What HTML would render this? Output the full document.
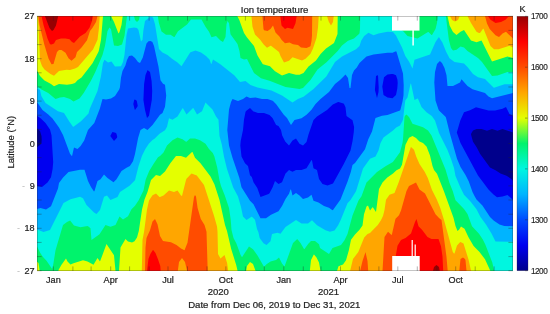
<!DOCTYPE html>
<html><head><meta charset="utf-8"><style>
html,body{margin:0;padding:0;background:#fff;}
body{width:550px;height:314px;overflow:hidden;}
svg{display:block;}
text{font-family:"Liberation Sans",Arial,sans-serif;font-size:9.1px;fill:#1f1f1f;stroke:#1f1f1f;stroke-width:0.22px;}
</style></head><body>
<svg width="550" height="314" viewBox="0 0 550 314">
<defs><linearGradient id="jet" x1="0" y1="0" x2="0" y2="1"><stop offset="0.0000" stop-color="#980002"/><stop offset="0.1000" stop-color="#ff0000"/><stop offset="0.2000" stop-color="#ff4c00"/><stop offset="0.3000" stop-color="#ffa600"/><stop offset="0.4000" stop-color="#e4ff00"/><stop offset="0.5000" stop-color="#00f36c"/><stop offset="0.6000" stop-color="#00f6e0"/><stop offset="0.7000" stop-color="#00b4ff"/><stop offset="0.8000" stop-color="#004bff"/><stop offset="0.9000" stop-color="#0000f0"/><stop offset="1.0000" stop-color="#00008c"/></linearGradient></defs>
<rect width="550" height="314" fill="#fff"/>
<g transform="translate(37,16)">
<rect width="476" height="255" fill="#00008c"/>
<path fill="#0000f0" fill-rule="evenodd" d="M0.5,0 476,0 476,116.5 465.5,113 460.5,114.8 455,113 450,114.8 444.5,113 439.5,113 436,114.6 434.2,117.5 434,118.5 436,125.7 439.5,130.9 443,137.8 453,151.6 458.5,154.3 463.5,157.6 469.5,159.7 474,162.7 476,164.7 476,255 0,255 0,131.3 3,129 4.5,126.9 4.7,123.5 4.5,120.1 3,115 0,112.6 0,0Z"/>
<path fill="#004bff" fill-rule="evenodd" d="M0.5,0 476,0 476,99.8 472.5,98 469,91 465.5,92.8 458,94.5 451.5,94.5 439,91.2 433,94.2 427,96.3 423.3,104.5 419.8,116.5 423.5,127 441,159.5 451.5,173.5 456.5,178.5 460,181.2 465.5,180.5 470.5,178.9 476,184 476,255 0,255 0,170 5,171 10.5,166.5 11.5,165 14,161.2 15.6,153 16.2,146 14.5,119.3 13,113.5 8.5,107.1 3.9,102.5 0,99.7 0,0ZM110.4,54.5 108.5,59 107.1,68 106.4,84 108,94 110,102 112,99.8 114.8,84 115.2,75 114.6,65 113,56.1 110.5,54ZM354.5,58 350.5,58.6 347,61.3 345.3,70.5 346.5,79 350.5,81.4 355.5,82.2 359,79.1 360.3,72.5 360.7,67 360.4,63.5 359,59.3 356,57.9 354.5,58ZM340,59.5 339,60 337.9,74 340,81.9 341.5,76 341.7,71.5 341,59.2 340,59.5ZM97.2,84 96.3,88 97.7,93.5 98,94 100.5,90.5 100.7,89.5 99.8,85 99,84.1 97.5,83.5ZM301.1,86 295.8,88.5 290,93.9 280,100.5 276.5,104 271.5,118.4 269.5,125.9 266,129.5 262.5,127.8 259,122.5 255.5,124.4 252,129.5 248.2,125.5 245.2,119.5 244,114.1 241.5,110.1 239.1,109 235.5,102 232.5,99.1 227,97 221,96.9 217.5,95.8 216.5,95.4 213,92 209,95 208.5,95.9 207,103.5 206,113.9 203.7,125 203.3,129.5 204.5,140.4 208,147.2 211,150.1 213,159.2 214.8,161 216.5,166.2 220.3,172 223.5,181 231.6,178 232.5,177.2 235.5,171.5 238,165 241.5,168 245,166.2 248.5,157.5 252,154 255.5,155.8 259,154 264.5,153.9 269.5,152.3 274.5,144.1 275,144.6 276.5,152.3 280,154 282,163.1 285.5,168 290.5,169.6 296,167.6 306.5,148.5 313.5,134.6 315.5,125.2 316.8,116 317.1,111 315.5,104.3 309.5,99.9 308.5,91.2 307,88 306.5,87.5 301.5,85.9ZM75.1,116.5 73.3,120 77,124.9 80,121.8 80.2,120.5 79.4,117.5 78.5,116.7 75.5,116Z"/>
<path fill="#00b4ff" fill-rule="evenodd" d="M0.5,0 476,0 476,77 455,82.3 451.5,80.5 448,77 435.5,73.3 430.5,70 424.5,63.3 423,66.5 419.5,68.3 416,70 410.5,70 409.5,59.2 407.5,52.1 405,47 402.9,45 400,48 398,55.9 397.3,66.5 398.5,84.6 401.5,93.6 402,94.6 408.5,100.7 409,101.7 413,118 420,142.8 423.5,151 428.5,159 431.8,165.5 435.5,176.1 437.5,180 439.5,183.5 445.4,189.5 453,200.9 456.6,204.5 462.5,208.4 467.3,210 476,210.2 476,255 0,255 0,192.9 3.5,192 9,193.6 14,190.2 21,172.6 22,167 26.1,161.5 31.5,156 43,153.8 47.5,153.8 51,165 54,171.1 57,175.5 57.5,175.1 60.5,165 63.5,163.3 67,158.6 70.5,162 76.5,166.3 79.5,163.3 84.5,155.1 89.5,151.7 92.9,150 96,145.3 98,137.9 101.1,122 103.5,114.1 107,111.9 110.5,114.1 115.5,109 123,98.7 125.5,97 128,90.8 129.2,79.5 128,68.8 126,67.7 123.5,64.3 121.5,50.8 117,30 115.4,26 113.5,25 111.5,25.3 109.5,27.5 105.8,41.5 103,47 101,46 98,42 95,39.4 92,40 90,44 88.4,49.5 85.5,55 84,61.5 82.9,71.5 82.2,73.5 78,80 74,82.5 69,83.5 65.5,83 62.9,92.5 57.3,107 51,113.9 47.2,124.5 43.6,130 40.5,133.1 37,131.6 35,140.2 33,137.7 26,119.1 22,111.5 15.5,102.5 11.3,98.5 5.5,94 1,87.5 0,86.7 0,0ZM358.3,35.5 355.5,36.8 350.5,36.8 336.5,38.5 329.5,40.4 322.5,47 319.8,51.5 317,54.5 315,59 313.5,72 312.5,72 311,62.1 308.5,58.5 303,64 298,68 292,76 283.5,83 278.5,88.1 274.5,93.8 269.5,98.8 264.5,102.2 257.5,103.9 254,109 250,102 246.6,98.5 239,88 236,85 235,84.6 230.5,83 225,82.9 218.5,81.4 213,82.1 209.5,80.4 206,83 201,84.9 195.5,83 194,86.1 192,93.4 190.3,114 192,129.5 195.5,141.7 202.4,162 204.5,171.3 213,184.8 216.5,188.3 223.5,202.3 229,202.2 234,198.8 241.5,195.3 245,190 248.5,183 252,177.8 253.5,173.4 254,173.4 255.5,179.5 259,176.9 262.5,179.5 266,183 271,181.4 274.5,178.8 276.5,184.8 281.5,186.4 287,190 292,191.7 295.5,194.2 296,194.1 303.5,183.5 310.5,165.8 313.8,156 315.5,149 318,147 328,133.2 331.2,123.5 335,115.6 338.5,102 345,99.8 350.5,99 363,94.5 363.5,93.6 365.5,85.5 366.5,79.2 366.7,69 366,57.6 359.5,35.7 359,35.2 358.5,35.4Z"/>
<path fill="#00f6e0" fill-rule="evenodd" d="M0.5,0 476,0 476,68.3 467.5,68.3 457,71.7 456.5,71.5 448,63 441,61.3 436,57.9 430.5,51 427,47.5 417.5,46 412.5,42.2 409,35.4 405.4,26.5 402,21.2 401.5,21.4 398.5,26 393,38.5 377.5,43.8 375.5,52.4 372,45.5 368.3,40 365,31.5 359,19.5 356,16.1 350.5,15.7 341.5,17.6 336.5,19.2 331.5,16.7 327.2,20 324.3,24.5 322.5,30 319,33.3 305,40.4 298,46 289.3,60.5 276.5,73 266.5,80.7 260.9,83 255.5,86.5 245,79.5 234.5,74.5 220.5,71.5 213.5,69 208.5,65.1 203,66 197.5,59.6 183,48 176,43.4 174.5,47.9 174,47.7 172.5,43.4 169,39.9 164,36.5 158.5,34.5 153.5,36.3 153,36.8 144.5,50.3 140.5,46.5 135,42.8 130.5,39 125.5,36.4 122,33 118,8.2 116,1.4 113.5,0.5 108,5 106.3,15 105.5,23.8 104,25.5 101.5,14.1 100,12.1 97,11.5 91,12.5 89.5,19 87.5,38.8 86,46.1 84,50.3 78,50.4 74.5,45.6 71,46.4 67.5,43.7 66,47 63.8,61 60.5,75 52.7,93 51.5,97.6 44,105.2 36.5,110.8 36,110.7 32.3,105.5 27,97 21,95.3 8.5,86.9 4.3,80 3,73.9 0,72.5 0,0ZM374,67.4 377.5,83.9 380.5,82.4 381,82.8 384.5,91.1 389.5,96.2 394.8,100 398,104.6 402,116.9 410.5,134 414,142.9 417,152.1 418.5,160 423.5,171.8 427,178.8 433.5,185.4 439.5,193.2 443.5,201.1 449,208.4 454.5,217.5 458.5,225.5 476,225.7 476,255 0,255 0,213.6 6.5,216 13,214 26.5,186.9 33.5,183.2 43,180.8 46,182.3 49.5,188.9 57,196.5 59.5,198 63,193.9 67,180.8 70,179.4 73.5,183.9 80.5,181 83,175.9 92.5,169.7 98,164.2 101.5,150.3 103.5,144.3 105,139.8 108.5,132.8 112,127.5 115.5,124 117.5,122.8 122.5,117.8 128,114.3 130,110.8 132,102.3 135.5,103.7 140.5,100.4 145.5,92.2 146,92.2 149.5,98.5 156,92.1 156.5,92.2 160,98.6 165,95.2 168.5,86.5 175.5,93.5 179,100.5 181.5,103.8 182.5,120.1 184.8,128.5 187,140.7 190,153 196.2,171.5 201,180.4 204,190.9 206,200.5 209.5,204 214.5,200.8 215,200.8 218,203.8 220,212.9 221.5,216.6 222.5,221.3 223,222.6 226.5,227.3 229.5,228.9 233.5,225.2 235,218.1 240.5,216.7 243.5,217.7 248.5,211 259,204 264.5,207.5 271,207.5 275,204.2 280,209.3 288.5,214.3 293,215.8 297.5,214.4 301,209.5 303.7,204 310.5,187.2 313.5,184 319,175.2 326,152.5 333,142.8 338.5,140.5 341.5,134.5 343.5,127 346.5,121.6 356,114.6 359.2,111.5 363,109.5 365.2,105.5 366,103.4 368.3,84.5 370.5,81.4 373.5,67.9 373.9,67.5Z"/>
<path fill="#00f36c" fill-rule="evenodd" d="M0.5,0 90,0 87.5,19.8 85,28.5 81,30 77,29.5 74,13.2 72.5,11.5 70.5,15 68,29.8 65.5,39.1 58.3,56 53.8,65 46.7,77 42.5,82.4 36.5,85.5 33,83 27,81 23,81.5 18.5,83 11.2,77 4.5,73.5 0,70.1 0,0ZM97,0 102.7,0 102,4 100,6 98,4 97,0ZM121,0 323.2,0 323,12.6 322.5,17.3 322,17.9 317,22.5 311,24.8 305,29.4 300.7,35 289.5,46.3 280.5,53.5 273.5,64 266,72 262.5,73.1 248.5,71 232.5,64.8 224,62.2 217,57 210,43 207,43.5 203.5,42 202.5,35.2 200.5,28 193.5,18.2 192,7.2 190.5,4.9 189.5,8.3 188.5,21.1 186,25.9 183.5,24.6 179,20.1 174.5,21.2 172,15.7 168.5,10.8 164.5,3.5 154,3.5 150,8.5 141,15.3 137.5,20.9 137,21.1 133.5,18.8 129,18.8 124.5,15.5 121.9,7 120.8,0ZM355,0 400.7,0 400,6.9 398.5,13.1 395,18.9 394.5,19 391.5,16 391,16 380.5,22.6 370.5,20.1 366.5,15.6 359,10 356,4 355,0ZM409,0 476,0 476,56 470.5,56.1 460.5,59.4 455,60 445,46 441,42 430.5,35 427,31.5 423.5,30.5 419.5,33.8 416,34.5 414,32 411.9,24 408.8,0ZM369,98.9 369.5,98.5 372,101 375.5,107.7 386,111.3 391,114.6 394.5,119.6 408.5,153.4 412.5,167 415.7,175 418.5,184.2 427,192.9 430.5,198 435,210.3 442,217.7 445.8,223.5 448.3,228.5 455.3,246.5 457.2,255 0,255 0,230.4 3.3,237 6,241 9.5,244.7 15,252.7 15.5,252.1 16.5,247.1 18.5,234.3 26,209 30,205.9 33.1,204.5 37,209.6 43.5,211.2 50.5,210.1 51.4,210.5 53.5,212.3 54.5,224.1 62.5,218.3 68.5,209.1 73.5,210.8 78.5,209.1 82.5,200.5 86,203.6 91,200.3 94.5,193.3 98,189.8 101.5,184.5 106.5,174.5 108.7,163.5 112.2,155 116.8,147.5 121,141.3 123,140 126.5,136.5 130,129.5 135.5,124.2 140.5,121.6 145.5,123.2 149,125.7 149.5,125.7 153,122.5 158,122.5 163,124.2 168.5,127.8 172,133 175.8,137 177.4,140.5 180.2,151.5 182.5,164.5 184,170 187.8,179.5 192,191.9 193.7,203.5 194.5,214 196.5,222 199.4,227.5 203.5,238.7 205,241.2 212,230.5 216,233.3 217.3,235 220.5,239.6 227,250.7 229.5,248.3 233.5,245.6 239,244.1 242,241.6 245,247.5 247.5,250.6 256,226.9 260,223.3 260.5,223.3 263.5,227 267,232.9 267.5,232.9 271.5,227.5 274,225 278,225 282,228.3 283,232 292,237.9 295.5,232 304,229 307.5,224.2 310.5,218.1 315.5,199.4 321.5,184.5 324.5,180.3 329.5,166.5 340,156 348.5,150.2 355.9,146 363,136.3 365.5,126.9 366,123.3 367.5,101.1 368,99.8 368.9,99Z"/>
<path fill="#e4ff00" fill-rule="evenodd" d="M0.5,0 66,0 64,23.7 62,33.9 61.5,35.8 55.5,47.2 44.5,61.4 40.5,64.2 38,67 35,68 30,68.7 22,67.9 17,70.2 14,68 7.5,64.6 3,60.1 0,54.6 0,0ZM74,0 85.7,0 84.5,8.9 82.5,15.9 81.5,17.5 77,6.1 74,0ZM200.5,0 300.7,0 300.5,17.9 297,27 289,32.6 283.6,38 279,44.5 271.5,50.4 266.5,57 262.5,58.8 259,58.8 252,57 245,59.6 238,55.2 233,50.2 226,48.3 225.5,47.8 220.5,39.5 217,30.1 210,21.5 207,17 202.5,4.6 200.3,0ZM410.5,0 476,0 476,42 470.5,40.4 455,45.5 444.5,24.6 439.5,26.3 434,24.5 427,14 423.5,15.7 419.5,19.1 416,16 412.6,9.5 410.5,0ZM375,120.2 375.5,120 379,121.9 382.5,125.4 386,127 389.5,130.6 393,139.4 395.5,149.9 397,154 400,157.8 407,175.4 416.5,201.8 418.5,210 420.5,214.9 422,213.8 424,210.6 427.5,212.8 431.5,221.2 436.6,230 442.5,236 448,243.3 453.4,255 300,255 301.5,250.2 306,248.6 309,244.2 311.8,234.5 314,223.8 318,218.4 322.5,213.8 325.5,209.4 327,198.2 329.5,190.6 331,189.5 333,194.5 335.5,191.2 336,191.5 339,196 342,173.1 345.5,166.4 350.3,161.5 356,157.6 359.5,154.2 363,152.5 365,148.8 368.5,128.7 372,121.7 374.5,120.5ZM155,136 155.5,135.9 158,141.8 163.5,147.3 173.5,160.6 177.5,168.6 182.5,184.1 188,209 190,215.1 194.2,233 199.2,249 200.6,255 82,255 83.5,231.5 88.5,222.9 91,225.4 95,226.6 97.5,225.3 100,221.5 101.8,215 105,193.4 107.5,183.6 110.5,175.9 114,164.1 119,159 123,160 128,155.5 133.5,147 139,140 144,140 149,141.7 155,136ZM69.5,228 77,239.3 78.5,255 21.4,255 21.5,254.1 24.5,248.7 29,242.6 30.5,245.5 33.5,248.6 36.5,247.2 46,244.2 50.5,245.6 56.5,248.7 60.5,241.9 63,245.6 69.5,228ZM277,238.4 279.5,241.5 282,246.5 283.5,255 272.8,255 274,244.1 276.8,238.5ZM0.3,246 1.5,247.1 2.7,255 0,255 0,245.7ZM213,246 216,248 218.6,255 209.1,255 210,250 212.6,246.5Z"/>
<path fill="#ffa600" fill-rule="evenodd" d="M0.5,0 62.7,0 62,11.7 60.5,23.8 56,33.5 41,51 38,52.5 33,54 29.5,53.7 22,55.1 17,59.8 13.5,58 7.5,53.5 5,50 3,44.5 1.5,9.4 0.5,0ZM214.5,0 281.7,0 281,11.6 279.5,22.1 276,32.4 273.5,37.8 268.5,42.8 265,44.5 255.5,41.3 252,44.7 247,46.4 243.5,39.9 242,36 234,29.8 233.5,29.7 230,31.7 226.5,28.3 223,23.5 218,18.5 215.5,10.8 214.4,0ZM290,0 296.7,0 296,5.9 294,9.5 291.7,5.5 290,0ZM413,0 422.7,0 421,4 418,5.5 415,4 413,0ZM430.5,0 476,0 476,31.5 472.5,29.8 461.5,33.3 457,33.3 453.5,30 446.5,12.8 446,12.7 443,17.1 441.9,17 439.5,15.8 434,7 430.5,0ZM374,130.9 377,133.8 379.2,140.5 382.5,148 387.8,156 390.8,162 395,173.9 399.8,183.5 403.3,192 407.3,205 415.8,236 417,237.4 417.5,237.4 420,229.4 423,226.3 423.5,226.1 426.5,227.5 431.5,243.5 434.1,255 313.1,255 316,243 321.3,236 327.2,221.5 330.5,218.1 333,217 340.8,209 343.8,204.5 346,200 347.5,193.9 349,183.7 352.5,178.8 357.5,177 361.8,166 373.9,131ZM154,158 154.5,157.5 159.8,159.5 167,169.1 177,199.8 180,210.4 180.5,215.4 181,238.1 183.5,242.5 187.5,239 190.1,247 191.2,255 104.8,255 105.5,224 107.2,215 110,193.5 112,184.5 115.5,179.3 118,178 119,177.5 122.5,181 123,180.9 126.5,179.5 132,174.4 137,176 140.5,174.4 144,179.5 145,179.9 149,163.9 149.5,162.7 154,158Z"/>
<path fill="#ff4c00" fill-rule="evenodd" d="M1.5,0 60.5,0 59,6 55.7,11.5 53,15 50,24.3 44.5,31.6 40,36 38.5,41.3 34.5,44.7 31.5,42.3 28.5,36.8 24.5,34 22,34 20,36.1 16.5,48 14.5,48.3 11.5,42.4 7.3,28.5 2.5,9.1 1.4,0ZM225.5,0 275.2,0 275,19.5 274.5,25.1 273.5,29.9 273,30.5 269.5,31.9 264,31.5 261,29 256,28.3 252.5,26.5 248,27.2 244.5,23.7 242.4,20.5 238.5,16.5 236,9.6 233.5,13.1 230.5,15.1 227,14.2 226.5,13 225.4,0ZM448,0 476,0 476,22.6 469,15.8 465.5,17.5 462,21 458.5,19.3 452.7,13 450,7.4 448,0ZM378.5,166.8 379,166.5 382.5,173.5 388,177.5 398.5,198.3 402,202 404.5,203.9 409.5,240.9 410.7,255 345.5,255 347.5,221.1 351,215.8 354.5,219 354.9,218.5 358.5,202.7 362,199.2 364,194.5 369.5,175.1 372,170 378,167ZM157.5,179.5 158.5,179.5 159,180.4 160.6,192 163.8,203 167.5,209 169.5,215.8 170.7,255 150.1,255 148,246.1 145,242.1 142,246 140.8,255 108,255 108.5,231.6 109.5,222 113,214.2 115.5,205.5 118,203.1 120.5,208.3 123,220 126,225 134,226.3 139.5,229.1 144,232.5 147.5,234.2 150.5,226.8 157,180.9 157.5,180ZM328.5,236.1 330.5,245.1 331.2,255 323.1,255 325.5,245 328.4,236.5ZM425.5,241.8 426,241.5 428,242.9 428.5,244.3 429.5,255 422.3,255 423.5,242.9 425.1,242Z"/>
<path fill="#ff0000" fill-rule="evenodd" d="M4.5,0 56,0 55,4.9 52.5,11.8 48.5,16.9 43,20.5 37,27 35,26 32.5,23.3 28.5,22.5 24,22.6 19,24 17,27.5 14.5,28.5 13,28.3 10.5,22.5 6.5,9 4.5,0ZM243.5,0 259.7,0 258.5,7.3 256,12.9 250.5,11.8 248,12.9 244.5,9.6 243.3,0ZM451,0 472.1,0 468.5,3.8 464,6 458.5,7 453.5,3.7 450.9,0ZM379.5,203 381.5,210.2 385,213.7 390.5,221 394.5,223 401.5,222.9 404,230.2 405.5,240.6 406.2,255 358,255 358.5,241.4 360.5,229.7 364,224 368.5,222 374,217.6 378,206 379.5,203ZM116,233.8 118.5,237.1 121,243.2 123.3,250 123.7,255 110,255 111.5,242.7 113.5,237.7 115.9,234Z"/>
<path fill="#980002" fill-rule="evenodd" d="M8,0 21.2,0 19,9.4 16.5,14.1 15,15.1 12.5,12 7.9,0ZM399,249.3 399.5,249 402,251 402.7,255 396,255 397,251 398.8,249.5Z"/>
</g>
<g fill="#fff">
<rect x="392" y="16" width="27.5" height="14.6"/>
<rect x="412.4" y="16" width="1.4" height="29.5"/>
<rect x="392.2" y="256" width="27.5" height="15"/>
<rect x="411.6" y="240" width="1.2" height="17"/>
<rect x="414.6" y="244.5" width="1.2" height="13"/>
</g>
<path d="M37,270.7h4.6M513,270.7h-4.6M37,256.6h4.6M513,256.6h-4.6M37,242.4h4.6M513,242.4h-4.6M37,228.3h4.6M513,228.3h-4.6M37,214.2h4.6M513,214.2h-4.6M37,200.0h4.6M513,200.0h-4.6M37,185.9h4.6M513,185.9h-4.6M37,171.8h4.6M513,171.8h-4.6M37,157.6h4.6M513,157.6h-4.6M37,143.5h4.6M513,143.5h-4.6M37,129.4h4.6M513,129.4h-4.6M37,115.2h4.6M513,115.2h-4.6M37,101.1h4.6M513,101.1h-4.6M37,87.0h4.6M513,87.0h-4.6M37,72.8h4.6M513,72.8h-4.6M37,58.7h4.6M513,58.7h-4.6M37,44.6h4.6M513,44.6h-4.6M37,30.4h4.6M513,30.4h-4.6M37,16.3h4.6M513,16.3h-4.6M53.4,271v-4.6M53.4,16v4.6M72.9,271v-4.6M72.9,16v4.6M91.1,271v-4.6M91.1,16v4.6M110.7,271v-4.6M110.7,16v4.6M129.6,271v-4.6M129.6,16v4.6M149.1,271v-4.6M149.1,16v4.6M168.0,271v-4.6M168.0,16v4.6M187.5,271v-4.6M187.5,16v4.6M207.0,271v-4.6M207.0,16v4.6M225.9,271v-4.6M225.9,16v4.6M245.4,271v-4.6M245.4,16v4.6M264.3,271v-4.6M264.3,16v4.6M283.8,271v-4.6M283.8,16v4.6M303.3,271v-4.6M303.3,16v4.6M321.0,271v-4.6M321.0,16v4.6M340.5,271v-4.6M340.5,16v4.6M359.4,271v-4.6M359.4,16v4.6M378.9,271v-4.6M378.9,16v4.6M397.8,271v-4.6M397.8,16v4.6M417.3,271v-4.6M417.3,16v4.6M436.8,271v-4.6M436.8,16v4.6M455.7,271v-4.6M455.7,16v4.6M475.2,271v-4.6M475.2,16v4.6M494.1,271v-4.6M494.1,16v4.6" stroke="#262626" stroke-opacity="0.5" stroke-width="0.7" fill="none"/>
<rect x="37.3" y="16.3" width="475.4" height="254.4" fill="none" stroke="#262626" stroke-opacity="0.45" stroke-width="0.6"/>
<rect x="517" y="16.3" width="11" height="254.4" fill="url(#jet)"/>
<rect x="517" y="16.3" width="11" height="254.4" fill="none" stroke="#262626" stroke-opacity="0.45" stroke-width="0.6"/>
<text x="530.9" y="273.6" style="font-size:8.2px;letter-spacing:-0.45px;stroke-width:0.15px">1200</text>
<path d="M527.5,270.7h-2.5" stroke="#262626" stroke-opacity="0.6" stroke-width="0.7"/>
<text x="530.9" y="222.7" style="font-size:8.2px;letter-spacing:-0.45px;stroke-width:0.15px">1300</text>
<path d="M527.5,219.8h-2.5" stroke="#262626" stroke-opacity="0.6" stroke-width="0.7"/>
<text x="530.9" y="171.8" style="font-size:8.2px;letter-spacing:-0.45px;stroke-width:0.15px">1400</text>
<path d="M527.5,168.9h-2.5" stroke="#262626" stroke-opacity="0.6" stroke-width="0.7"/>
<text x="530.9" y="121.0" style="font-size:8.2px;letter-spacing:-0.45px;stroke-width:0.15px">1500</text>
<path d="M527.5,118.1h-2.5" stroke="#262626" stroke-opacity="0.6" stroke-width="0.7"/>
<text x="530.9" y="70.1" style="font-size:8.2px;letter-spacing:-0.45px;stroke-width:0.15px">1600</text>
<path d="M527.5,67.2h-2.5" stroke="#262626" stroke-opacity="0.6" stroke-width="0.7"/>
<text x="530.9" y="19.2" style="font-size:8.2px;letter-spacing:-0.45px;stroke-width:0.15px">1700</text>
<path d="M527.5,16.3h-2.5" stroke="#262626" stroke-opacity="0.6" stroke-width="0.7"/>
<text x="522.5" y="11.6" text-anchor="middle" style="font-size:9px">K</text>
<text x="274.6" y="12.9" text-anchor="middle" style="font-size:9.6px">Ion temperature</text>
<text x="53.4" y="282.6" text-anchor="middle">Jan</text>
<text x="110.7" y="282.6" text-anchor="middle">Apr</text>
<text x="168.0" y="282.6" text-anchor="middle">Jul</text>
<text x="225.9" y="282.6" text-anchor="middle">Oct</text>
<text x="283.8" y="282.6" text-anchor="middle">Jan</text>
<text x="340.5" y="282.6" text-anchor="middle">Apr</text>
<text x="397.8" y="282.6" text-anchor="middle">Jul</text>
<text x="455.7" y="282.6" text-anchor="middle">Oct</text>
<text x="34.7" y="19.4" text-anchor="end">27</text>
<text x="34.7" y="61.8" text-anchor="end">18</text>
<text x="34.7" y="104.2" text-anchor="end">9</text>
<text x="34.7" y="146.6" text-anchor="end">0</text>
<text x="34.7" y="189.0" text-anchor="end"><tspan fill="#b8b8b8" stroke="none">-</tspan><tspan dx="4.5">9</tspan></text>
<text x="34.7" y="231.4" text-anchor="end"><tspan fill="#b8b8b8" stroke="none">-</tspan><tspan dx="4.5">18</tspan></text>
<text x="34.7" y="273.8" text-anchor="end"><tspan fill="#b8b8b8" stroke="none">-</tspan><tspan dx="4.5">27</tspan></text>
<text x="218.2" y="295.2" text-anchor="middle" style="font-size:9.5px">2020</text>
<text x="328.6" y="295.2" text-anchor="middle" style="font-size:9.5px">2021</text>
<text x="274.3" y="308.2" text-anchor="middle" style="font-size:9.6px">Date from Dec 06, 2019 to Dec 31, 2021</text>
<text transform="translate(13.6,142.2) rotate(-90)" text-anchor="middle" style="font-size:9.4px">Latitude (°N)</text>
</svg>
</body></html>
